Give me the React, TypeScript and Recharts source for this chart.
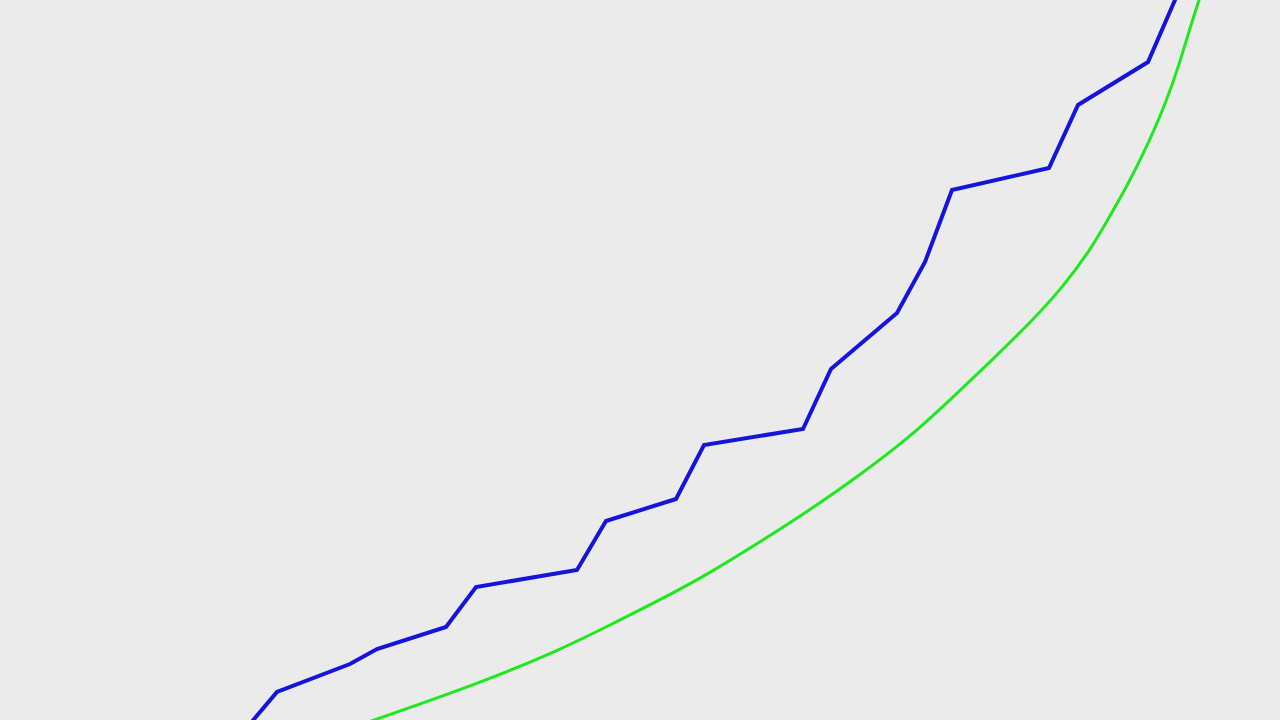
import { LineChart, Line, XAxis, YAxis } from 'recharts'

// positions along x (0..1280) and heights above the bottom edge (0..720)
const stepX = [240, 255, 277, 350, 377, 446, 476, 577, 606, 676, 704, 803, 831, 897, 925, 952, 1049, 1078, 1148, 1175, 1182]
const stepY = [-16, 2, 28, 56, 71, 93, 133, 150, 199, 221, 275, 291, 351, 407, 458, 530, 552, 615, 658, 720, 736]

const curveX = [320, 380, 480, 560, 610, 660, 710, 760, 810, 860, 910, 950, 990, 1030, 1063, 1090, 1100, 1127, 1150, 1167, 1180, 1190, 1199, 1206]
const curveY = [-19, 2, 37, 70, 95, 120, 147, 178, 210, 245, 283, 320, 358, 397, 433, 470, 487, 533, 580, 620, 658, 692, 720, 741]

const stepData = stepX.map((x, i) => ({ x, y: stepY[i] }))
const curveData = curveX.map((x, i) => ({ x, y: curveY[i] }))

export default function App() {
  return (
    <div style={{ position: 'absolute', top: 0, left: 0, width: 1280, height: 720, background: '#ebebeb' }}>
      <LineChart width={1280} height={720} margin={{ top: 0, right: 0, bottom: 0, left: 0 }}>
        <XAxis dataKey="x" type="number" domain={[0, 1280]} allowDataOverflow hide />
        <YAxis type="number" domain={[0, 720]} allowDataOverflow hide />
        <Line
          data={curveData}
          dataKey="y"
          type="basis"
          stroke="#1ee81e"
          strokeWidth={3}
          dot={false}
          isAnimationActive={false}
        />
        <Line
          data={stepData}
          dataKey="y"
          type="linear"
          stroke="#1414dc"
          strokeWidth={4}
          dot={false}
          isAnimationActive={false}
        />
      </LineChart>
    </div>
  )
}
